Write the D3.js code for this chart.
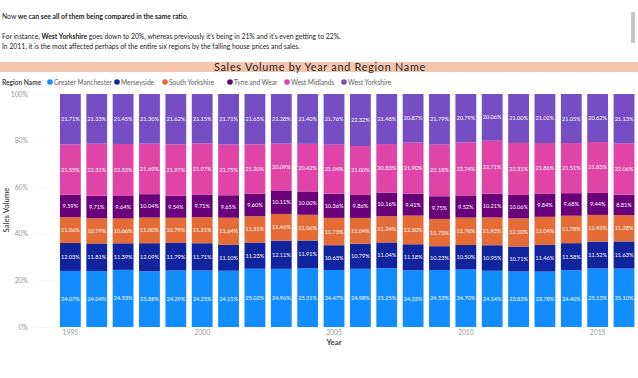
<!DOCTYPE html>
<html>
<head>
<meta charset="utf-8">
<script src="https://cdnjs.cloudflare.com/ajax/libs/d3/7.8.5/d3.min.js"></script>
<style>
  body { margin: 0; background: #fff; }
  svg { display: block; font-family: Lato, "Noto Sans", sans-serif; }
</style>
</head>
<body>
<svg id="canvas"></svg>
<script>
let years = [1995, 1996, 1997, 1998, 1999, 2000, 2001, 2002, 2003, 2004, 2005,
             2006, 2007, 2008, 2009, 2010, 2011, 2012, 2013, 2014, 2015, 2016]

let regions = ['Greater Manchester', 'Merseyside', 'South Yorkshire', 'Tyne and Wear', 'West Midlands', 'West Yorkshire']

let greaterManchester = [24.07, 24.04, 24.53, 23.88, 24.29, 24.25, 24.15, 25.02, 24.96, 25.21, 24.47,
                         24.98, 25.25, 24.33, 24.53, 24.70, 24.14, 23.83, 23.78, 24.40, 25.13, 25.10]
let merseyside = [12.03, 11.81, 11.39, 12.09, 11.79, 11.71, 11.10, 11.23, 12.11, 11.91, 10.63,
                  10.79, 11.04, 11.18, 10.23, 10.50, 10.95, 10.71, 11.46, 11.58, 11.52, 11.63]
let southYorkshire = [11.06, 10.79, 10.66, 11.00, 10.79, 11.21, 11.64, 11.31, 11.46, 11.06, 11.73,
                      11.04, 11.24, 12.30, 11.73, 11.76, 11.93, 12.10, 12.04, 11.78, 11.45, 11.28]
let tyneAndWear = [9.59, 9.71, 9.64, 10.04, 9.54, 9.71, 9.65, 9.60, 10.11, 10.00, 10.36,
                   9.86, 10.16, 9.41, 9.75, 9.52, 10.21, 10.06, 9.84, 9.68, 9.44, 8.81]
let westMidlands = [21.55, 22.31, 22.33, 21.69, 21.97, 21.97, 21.75, 21.20, 20.09, 20.42, 21.04,
                    21.00, 20.83, 21.90, 22.18, 22.74, 22.71, 22.31, 21.86, 21.51, 21.83, 22.06]
let westYorkshire = [21.71, 21.33, 21.45, 21.30, 21.62, 21.15, 21.71, 21.65, 21.28, 21.40, 21.76,
                     22.32, 21.48, 20.87, 21.79, 20.79, 20.06, 21.00, 21.02, 21.05, 20.62, 21.13]

let xTicks = [1995, 2000, 2005, 2010, 2015]
let yTicks = [0, 0.2, 0.4, 0.6, 0.8, 1]

let colors = ['#118DFF', '#12239E', '#E66C37', '#6B007B', '#E044A7', '#744EC2']

let width = 638
let height = 378

let canvas = d3.select('#canvas')
canvas.attr('width', width).attr('height', height)

// build rows for the stack
let seriesValues = [greaterManchester, merseyside, southYorkshire, tyneAndWear, westMidlands, westYorkshire]
let rows = years.map((year, i) => {
    let row = { year: year }
    regions.forEach((r, j) => { row[r] = seriesValues[j][i] })
    return row
})

let stack = d3.stack().keys(regions).offset(d3.stackOffsetExpand)
let layers = stack(rows)

let xScale = d3.scaleBand()
    .domain(years)
    .range([57.2, 637.2])
    .paddingInner(0.21)
    .paddingOuter(0.105)

let yScale = d3.scaleLinear()
    .domain([0, 1])
    .range([327, 94])

let colorScale = d3.scaleOrdinal().domain(regions).range(colors)

// ---- text box at the top ----
let note = canvas.append('g').attr('fill', '#252423').attr('font-size', 6.8)
let line1 = note.append('text').attr('x', 2).attr('y', 19)
line1.append('tspan').text('Now ')
line1.append('tspan').attr('font-weight', 'bold').text('we can see all of them being compared in the same ratio')
line1.append('tspan').text('.')

let line2 = note.append('text').attr('x', 2).attr('y', 39)
line2.append('tspan').text('For instance, ')
line2.append('tspan').attr('font-weight', 'bold').text('West Yorkshire')
line2.append('tspan').text(' goes down to 20%, whereas previously it\u2019s being in 21% and it\u2019s even getting to 22%.')

note.append('text').attr('x', 2).attr('y', 49)
    .text('In 2011, it is the most affected perhaps of the entire six regions by the falling house prices and sales.')

// scrollbar
canvas.append('rect')
    .attr('x', 631).attr('y', 12).attr('width', 4).attr('height', 31)
    .attr('fill', '#c6c6c6')

// ---- title band ----
canvas.append('rect')
    .attr('x', 0).attr('y', 62).attr('width', width).attr('height', 10)
    .attr('fill', '#F5C5B0')

canvas.append('text')
    .attr('x', 320).attr('y', 70.8)
    .attr('text-anchor', 'middle')
    .attr('font-size', 10.8)
    .attr('fill', '#252423')
    .style('letter-spacing', '0.75px')
    .text('Sales Volume by Year and Region Name')

// ---- legend ----
let legend = canvas.append('g').attr('font-size', 6.6)
legend.append('text')
    .attr('x', 2).attr('y', 84.5)
    .attr('font-weight', 'bold')
    .attr('fill', '#444')
    .text('Region Name')

let legendX = [50, 117, 165, 230, 287, 344]
regions.forEach((r, i) => {
    legend.append('circle')
        .attr('cx', legendX[i]).attr('cy', 82)
        .attr('r', 2.8)
        .attr('fill', colorScale(r))
    legend.append('text')
        .attr('x', legendX[i] + 4).attr('y', 84.5)
        .attr('fill', '#605E5C')
        .text(r)
})

// ---- gridlines + y axis ----
let yAxis = d3.axisLeft(yScale)
    .tickValues(yTicks)
    .tickFormat(d3.format('.0%'))
    .tickSize(0)
    .tickPadding(0)

let yg = canvas.append('g')
    .attr('transform', 'translate(28,0)')
    .call(yAxis)
yg.select('.domain').remove()
yg.selectAll('text')
    .attr('fill', '#999')
    .attr('font-size', 6.8)
    .attr('font-family', 'Lato, sans-serif')

canvas.append('g').selectAll('line')
    .data(yTicks)
    .enter()
    .append('line')
    .attr('x1', 34).attr('x2', 637)
    .attr('y1', d => yScale(d) + 0.5).attr('y2', d => yScale(d) + 0.5)
    .attr('stroke', '#e4e4e4')
    .attr('stroke-width', 0.8)
    .attr('stroke-dasharray', '1,2')

canvas.append('text')
    .attr('transform', 'translate(9,210) rotate(-90)')
    .attr('text-anchor', 'middle')
    .attr('font-size', 7.8)
    .attr('fill', '#252423')
    .text('Sales Volume')

// ---- bars ----
let layerG = canvas.append('g').selectAll('g')
    .data(layers)
    .enter()
    .append('g')
    .attr('fill', d => colorScale(d.key))

layerG.selectAll('rect')
    .data(d => d)
    .enter()
    .append('rect')
    .attr('x', d => xScale(d.data.year))
    .attr('y', d => yScale(d[1]))
    .attr('width', xScale.bandwidth())
    .attr('height', d => yScale(d[0]) - yScale(d[1]))

// data labels
layers.forEach(layer => {
    canvas.append('g').selectAll('text')
        .data(layer)
        .enter()
        .append('text')
        .attr('x', d => xScale(d.data.year) + xScale.bandwidth() / 2)
        .attr('y', d => (yScale(d[0]) + yScale(d[1])) / 2 + 2)
        .attr('text-anchor', 'middle')
        .attr('font-size', 5.6)
        .attr('fill', '#fff')
        .text(d => d.data[layer.key].toFixed(2) + '%')
})

// ---- x axis ----
let xAxis = d3.axisBottom(xScale)
    .tickValues(xTicks)
    .tickSize(0)
    .tickPadding(0)

let xg = canvas.append('g')
    .attr('transform', 'translate(0,330)')
    .call(xAxis)
xg.select('.domain').remove()
xg.selectAll('text')
    .attr('fill', '#999')
    .attr('font-size', 6.8)
    .attr('font-family', 'Lato, sans-serif')

canvas.append('text')
    .attr('x', 334).attr('y', 345)
    .attr('text-anchor', 'middle')
    .attr('font-size', 7.8)
    .attr('font-weight', 'bold')
    .attr('fill', '#444')
    .text('Year')
</script>
</body>
</html>
